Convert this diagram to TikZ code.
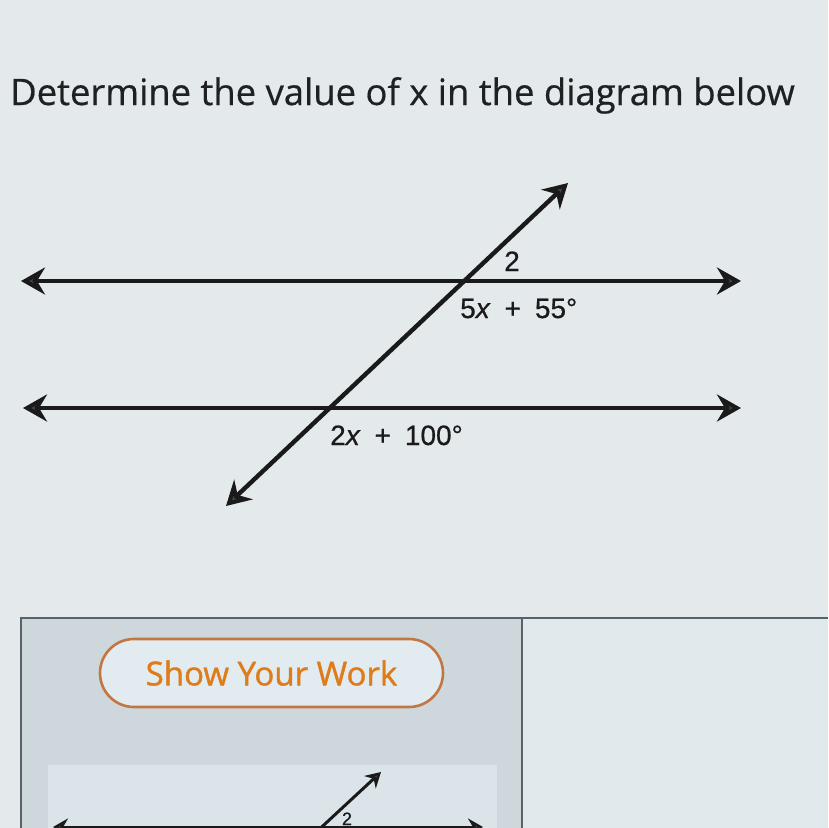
\documentclass[tikz,border=0pt]{standalone}
\usepackage{fontspec}
\setmainfont{Open Sans}
\newfontfamily\titlefont{Open Sans}[FakeBold=0.5]
\newfontfamily\lblfont{Liberation Sans}[FakeBold=0.6]
\newfontfamily\btnfont{Open Sans}[FakeBold=1.2]
\usetikzlibrary{arrows.meta}
\definecolor{bgc}{RGB}{228,233,236}
\definecolor{panelL}{RGB}{205,215,220}
\definecolor{panelR}{RGB}{224,233,236}
\definecolor{innerc}{RGB}{219,229,233}
\definecolor{framec}{RGB}{88,98,104}
\definecolor{linec}{RGB}{26,26,26}
\definecolor{tipc}{RGB}{70,70,70}
\definecolor{btnborder}{RGB}{196,118,66}
\definecolor{btnfill}{RGB}{226,236,240}
\definecolor{btntext}{RGB}{222,124,26}
\definecolor{titlec}{RGB}{30,32,34}
\tikzset{
  geoline/.style={draw=linec, line width=4.4pt,
    arrows={Stealth[length=24pt,width=27pt,inset=8pt,fill=tipc]-Stealth[length=24pt,width=27pt,inset=8pt,fill=tipc]}},
  geosmall/.style={draw=linec, line width=3pt,
    arrows={Stealth[length=15pt,width=17pt,inset=5pt,fill=tipc]-Stealth[length=15pt,width=17pt,inset=5pt,fill=tipc]}},
  lbl/.style={font=\lblfont\fontsize{28}{30}\selectfont, text=linec, inner sep=0pt},
  frame/.style={draw=framec, line width=2pt},
}
\newcommand{\lsp}{\hspace{0.5em}}
\begin{document}
\begin{tikzpicture}[x=1pt,y=-1pt]
\useasboundingbox (0,0) rectangle (828,828);
\clip (0,0) rectangle (828,828);
\fill[bgc] (0,0) rectangle (828,828);
% title
\node[anchor=base west, inner sep=0pt, text=titlec, font=\titlefont\fontsize{36.4}{40}\selectfont] (title) at (10,105) {Determine the value of x in the diagram below};
% main diagram
\coordinate (t1) at (21,281);
\coordinate (t2) at (741,281);
\coordinate (b1) at (23,408);
\coordinate (b2) at (741,408);
\coordinate (s1) at (226,506);
\coordinate (s2) at (568,183);
\draw[geoline] (t1) -- (t2);
\draw[geoline] (b1) -- (b2);
\draw[geoline] (s1) -- (s2);
\node[lbl, anchor=base] (two) at (512,271) {2};
\node[lbl, anchor=base west] (ang1) at (460,318) {5\textit{x}\lsp+\lsp55°};
\node[lbl, anchor=base west] (ang2) at (330,445) {2\textit{x}\lsp+\lsp100°};
% panels
\fill[panelL] (21,618) rectangle (522,828);
\fill[panelR] (522,618) rectangle (828,828);
\fill[innerc] (48,765) rectangle (497,828);
\draw[frame] (21,830) -- (21,618) -- (828,618);
\draw[frame] (522,618) -- (522,830);
% button
\node[draw=btnborder, line width=2.6pt, fill=btnfill, rounded corners=34pt,
  minimum width=343pt, minimum height=68pt, inner sep=0pt, text=btntext,
  font=\btnfont\fontsize{33}{36}\selectfont] (btn) at (271.5,673) {Show Your Work};
% small diagram
\coordinate (h1) at (53,827);
\coordinate (h2) at (483,827);
\coordinate (u1) at (312,836);
\coordinate (u2) at (381,772);
\draw[geosmall] (h1) -- (h2);
\draw[geosmall, arrows={-Stealth[length=15pt,width=17pt,inset=5pt,fill=tipc]}] (u1) -- (u2);
\node[lbl, font=\lblfont\fontsize{18}{20}\selectfont, anchor=base] (twosmall) at (347,825) {2};
\end{tikzpicture}
\end{document}
